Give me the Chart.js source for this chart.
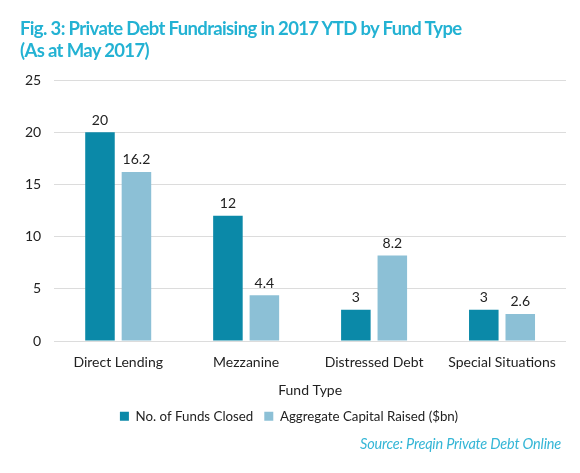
<!DOCTYPE html>
<html>
<head>
<meta charset="utf-8">
<script src="https://cdn.jsdelivr.net/npm/chart.js"></script>
<style>
  body { margin:0; background:#fff; font-family:Lato, "Open Sans", sans-serif; }
  .wrap { position:relative; width:580px; height:473px; }
  .title { position:absolute; left:20px; top:17px; color:#23b2d3; font-weight:bold; font-size:18.5px; letter-spacing:-0.65px; line-height:22px; }
  .source { position:absolute; right:19px; top:435px; color:#35b6d6; font-style:italic; font-size:14.5px; letter-spacing:-0.2px; }
  canvas { position:absolute; left:0; top:0; }
</style>
</head>
<body>
<div class="wrap">
  <canvas id="myChart" width="580" height="473"></canvas>
  <div class="title">Fig. 3: Private Debt Fundraising in 2017 YTD by Fund Type<br>(As at May 2017)</div>
  <div class="source">Source: Preqin Private Debt Online</div>
</div>
<script>
let fundTypes = ["Direct Lending", "Mezzanine", "Distressed Debt", "Special Situations"];
let fundsClosed = [20, 12, 3, 3];
let capitalRaised = [16.2, 4.4, 8.2, 2.6];
let seriesNames = ["No. of Funds Closed", "Aggregate Capital Raised ($bn)"];
let yTicks = [0, 5, 10, 15, 20, 25];

// values on top of the bars
let barLabels = {
  id: "barLabels",
  afterDatasetsDraw(chart) {
    let ctx = chart.ctx;
    ctx.save();
    ctx.font = "14px Lato";
    ctx.fillStyle = "#222";
    ctx.textAlign = "center";
    ctx.textBaseline = "bottom";
    chart.data.datasets.forEach((ds, i) => {
      chart.getDatasetMeta(i).data.forEach((bar, j) => {
        ctx.fillText(ds.data[j], bar.x, bar.y - 5);
      });
    });
    ctx.restore();
  }
};

new Chart("myChart", {
  type: "bar",
  data: {
    labels: fundTypes,
    datasets: [
      { label: seriesNames[0], data: fundsClosed, backgroundColor: "#0b89a8", categoryPercentage: 0.57, barPercentage: 0.81 },
      { label: seriesNames[1], data: capitalRaised, backgroundColor: "#8cc0d6", categoryPercentage: 0.57, barPercentage: 0.81 }
    ]
  },
  options: {
    responsive: false,
    animation: false,
    layout: { padding: { left: 12, right: 14, top: 80, bottom: 40 } },
    plugins: {
      title: { display: false },
      tooltip: { enabled: false },
      legend: {
        position: "bottom",
        labels: { boxWidth: 9, boxHeight: 9, color: "#222", font: { family: "Lato", size: 13.3 }, padding: 11 }
      }
    },
    scales: {
      x: {
        grid: { display: false },
        border: { display: false },
        ticks: { color: "#222", font: { family: "Lato", size: 14 }, maxRotation: 0, autoSkip: false, padding: 5 },
        title: { display: true, text: "Fund Type", color: "#222", font: { family: "Lato", size: 14 }, padding: { top: 6, bottom: 0 } }
      },
      y: {
        min: 0,
        max: 25,
        afterBuildTicks: (axis) => { axis.ticks = yTicks.map(v => ({ value: v })); },
        grid: { color: "#dcdcdc", drawTicks: false },
        border: { display: false },
        ticks: { color: "#222", font: { family: "Lato", size: 14 }, padding: 13 }
      }
    }
  },
  plugins: [barLabels]
});
</script>
</body>
</html>
